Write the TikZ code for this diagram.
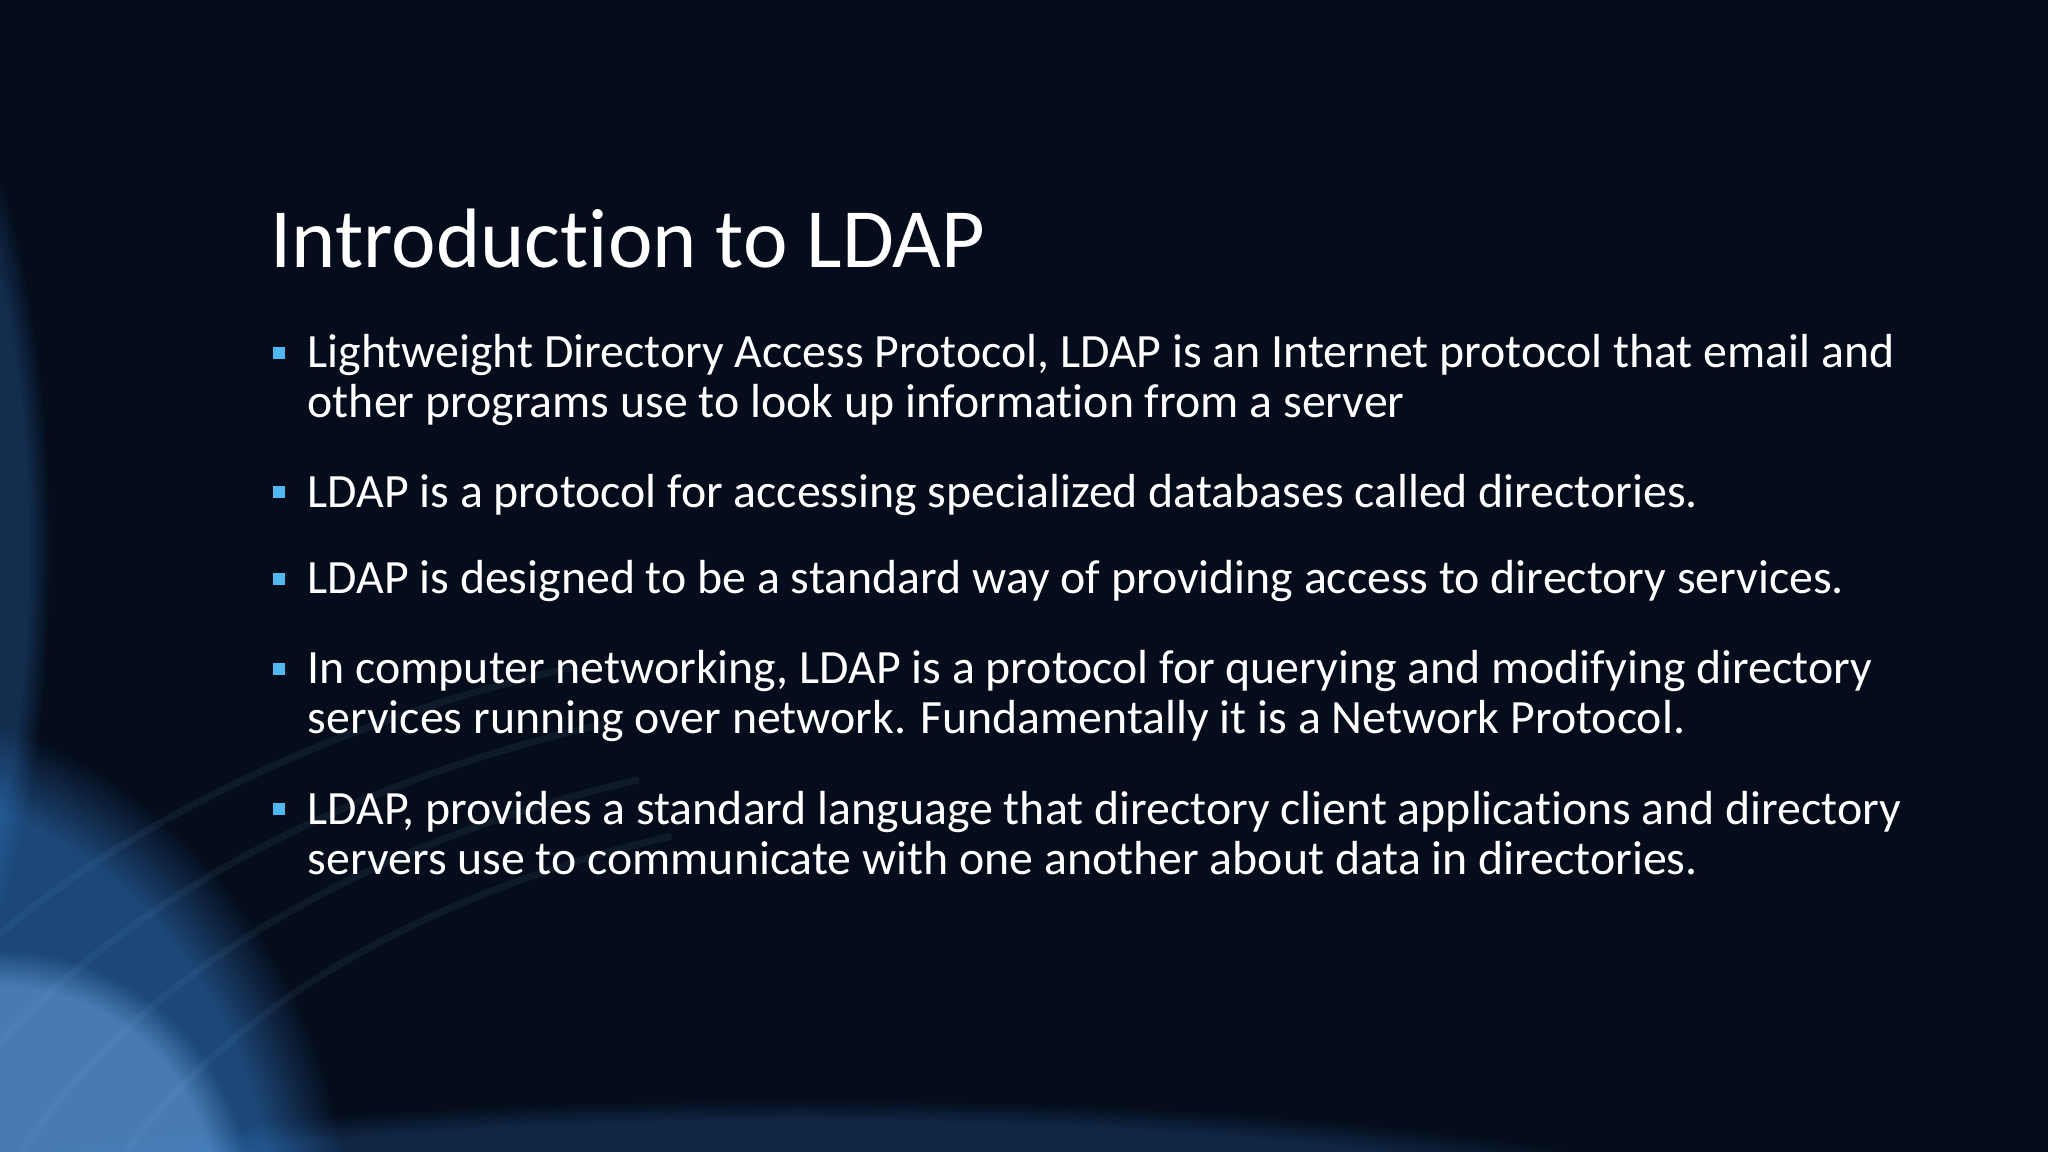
\documentclass[tikz,border=0pt]{standalone}
\usepackage{fontspec}
\setmainfont[RawFeature=-liga]{Carlito}
\usetikzlibrary{fadings}
\definecolor{bgdark}{HTML}{050D1C}
\definecolor{glow}{HTML}{3A8EE6}
\definecolor{bul}{HTML}{4FB8F0}
\tikzset{
  txt/.style={anchor=base west, text=white, inner sep=0pt, font=\fontsize{13.6pt}{16pt}\selectfont},
  bsq/.style={fill=bul, minimum size=0.12cm, inner sep=0pt},
}
\begin{document}
\begin{tikzpicture}
\fill[bgdark] (0,0) rectangle (20.48,-11.52);
\begin{scope}
\clip (0,0) rectangle (20.48,-11.52);
\fill[glow, path fading=circle with fuzzy edge 15 percent, opacity=0.45] (-1.5,-12.5) ellipse (5cm and 5.5cm);
\fill[glow!70!white, path fading=circle with fuzzy edge 15 percent, opacity=0.5] (0,-12) ellipse (2.5cm and 2.5cm);
\fill[glow, path fading=circle with fuzzy edge 15 percent, opacity=0.2] (8,-12.4) ellipse (10cm and 1.4cm);
\fill[glow, path fading=circle with fuzzy edge 15 percent, opacity=0.25] (-1,-5.5) ellipse (1.5cm and 5cm);
\foreach \r in {6,6.6,7.2,7.8}
  \draw[glow!60, opacity=0.07, line width=2pt] (10,-14) ++(180:\r*1.6) arc (180:110:{\r*1.6} and \r);
\end{scope}
\node[anchor=base west, text=white, inner sep=0pt, font=\fontsize{24pt}{28pt}\selectfont] (title) at (2.70,-2.68) {Introduction to LDAP};
\node[txt] (b1a) at (3.07,-3.68) {Lightweight Directory Access Protocol, LDAP is an Internet protocol that email and};
\node[txt] (b1b) at (3.07,-4.18) {other programs use to look up information from a server};
\node[txt] (b2) at (3.07,-5.07) {LDAP is a protocol for accessing specialized databases called directories.};
\node[txt] (b3) at (3.07,-5.94) {LDAP is designed to be a standard way of providing access to directory services.};
\node[txt] (b4a) at (3.07,-6.84) {In computer networking, LDAP is a protocol for querying and modifying directory};
\node[txt] (b4b) at (3.07,-7.34) {services running over network. Fundamentally it is a Network Protocol.};
\node[txt] (b5a) at (3.07,-8.24) {LDAP, provides a standard language that directory client applications and directory};
\node[txt] (b5b) at (3.07,-8.74) {servers use to communicate with one another about data in directories.};
\foreach \y [count=\i] in {3.68,5.07,5.94,6.84,8.24}
  \node[bsq] (sq\i) at (2.79,-\y+0.15) {};
\end{tikzpicture}
\end{document}
